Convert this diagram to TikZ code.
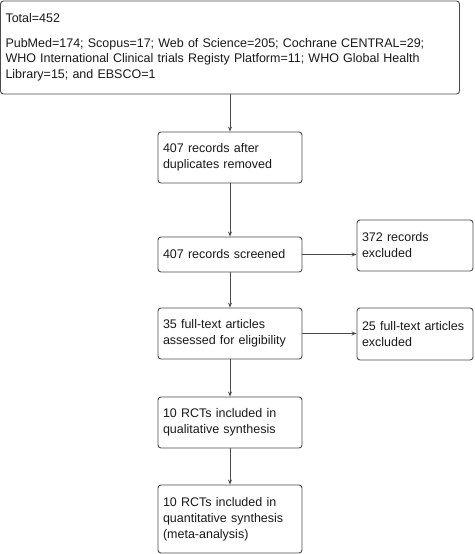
\documentclass[tikz,border=0pt]{standalone}
\usepackage{fontspec}
\setmainfont{Liberation Sans}
\usetikzlibrary{arrows.meta,positioning}
\definecolor{flowline}{RGB}{75,75,75}
\definecolor{flowtext}{RGB}{25,25,25}

\begin{document}
\begin{tikzpicture}[x=1pt,y=-1pt,>=Stealth,line cap=round,line join=round,
  flowbox/.style={draw=flowline,line width=.9pt,rounded corners=3pt,
    inner xsep=5pt,inner ysep=3pt,align=left,text=flowtext,
    font=\fontsize{12.5}{16}\selectfont},
  midbox/.style={flowbox,minimum width=144pt,text width=134pt},
  sidebox/.style={flowbox,minimum width=116pt,text width=106pt},
  flowarrow/.style={->,draw=flowline,line width=.9pt,
    >={Stealth[length=5pt,width=4pt]}}]
 \useasboundingbox (0,0) rectangle (474,554);
 \node[flowbox,minimum width=459pt,minimum height=93pt,text width=449pt,
   font=\fontsize{12.5}{15.5}\selectfont] (total) at (230,47.5)
  {Total=452\\[9pt]
   PubMed=174; Scopus=17; Web of Science=205; Cochrane CENTRAL=29;\\
   WHO International Clinical trials Registy Platform=11; WHO Global Health\\
   Library=15; and EBSCO=1};
 \node[midbox,minimum height=51pt] (dedup) at (230,157.5)
  {407 records after\\duplicates removed};
 \node[midbox,minimum height=35pt] (screen) at (230,254.5)
  {407 records screened};
 \node[sidebox,minimum height=51pt] (excl) at (415,245.5)
  {372 records\\excluded};
 \node[midbox,minimum height=51pt] (fulltext) at (230,333.5)
  {35 full-text articles\\assessed for eligibility};
 \node[sidebox,minimum height=52pt] (ftexcl) at (415,334)
  {25 full-text articles\\excluded};
 \node[midbox,minimum height=51pt] (qual) at (230,422.5)
  {10 RCTs included in\\qualitative synthesis};
 \node[midbox,minimum height=68pt] (quant) at (230,519)
  {10 RCTs included in\\quantitative synthesis\\(meta-analysis)};
 \draw[flowarrow] (total.south) -- (dedup.north);
 \draw[flowarrow] (dedup.south) -- (screen.north);
 \draw[flowarrow] (screen.south) -- (fulltext.north);
 \draw[flowarrow] (fulltext.south) -- (qual.north);
 \draw[flowarrow] (qual.south) -- (quant.north);
 \draw[flowarrow] (screen.east) -- (screen.east -| excl.west);
 \draw[flowarrow] (fulltext.east) -- (fulltext.east -| ftexcl.west);
\end{tikzpicture}
\end{document}
